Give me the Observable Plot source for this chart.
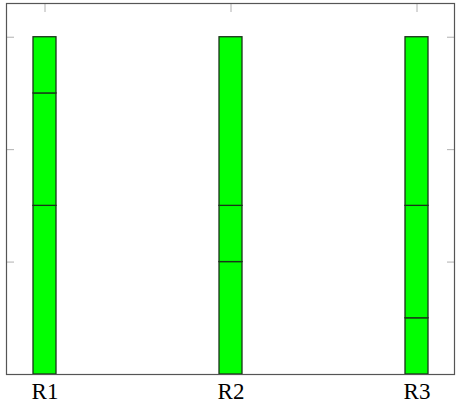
<!DOCTYPE html>
<html>
<head>
<meta charset="utf-8">
<script src="https://cdn.jsdelivr.net/npm/d3@7"></script>
<script src="https://cdn.jsdelivr.net/npm/@observablehq/plot@0.6"></script>
<style>
  body { margin: 0; background: #fff; }
</style>
</head>
<body>
<div id="chart"></div>
<script>
const categories = ["R1", "R2", "R3"];
const series = ["s1", "s2", "s3"];
const s1Values = [1.5, 1.0, 0.5];
const s2Values = [1.0, 0.5, 1.0];
const s3Values = [0.5, 1.5, 1.5];
const yTicks = [1, 2, 3];

const valuesBySeries = [s1Values, s2Values, s3Values];
const data = [];
categories.forEach((c, i) => {
  series.forEach((s, j) => {
    data.push({cat: c, series: s, value: valuesBySeries[j][i]});
  });
});

const tickColor = "#b0b0b0";
const noText = () => "";

const chart = Plot.plot({
  width: 474,
  height: 415,
  marginLeft: 6,
  marginRight: 20,
  marginTop: 3,
  marginBottom: 41,
  style: {background: "#fff", color: "#000"},
  x: {domain: categories, paddingInner: 0.8765, paddingOuter: 0.141, label: null},
  y: {domain: [0, 3.3], label: null},
  marks: [
    Plot.barY(data, {x: "cat", y: "value", z: "series", fill: "#00ff00", stroke: "#1a331a", strokeWidth: 1.3}),
    Plot.axisY({anchor: "left", ticks: yTicks, tickSize: 8, dx: 8, tickFormat: noText, stroke: tickColor, label: null}),
    Plot.axisY({anchor: "right", ticks: yTicks, tickSize: 8, dx: -8, tickFormat: noText, stroke: tickColor, label: null}),
    Plot.axisX({anchor: "top", tickSize: 8, dy: 8, tickFormat: noText, stroke: tickColor, label: null}),
    Plot.axisX({anchor: "bottom", tickSize: 0, tickPadding: 8, fontSize: 23, fontFamily: "Liberation Serif", fill: "#000", label: null}),
    Plot.frame({stroke: "#555", strokeWidth: 1.2})
  ]
});
document.getElementById("chart").appendChild(chart);
</script>
</body>
</html>
